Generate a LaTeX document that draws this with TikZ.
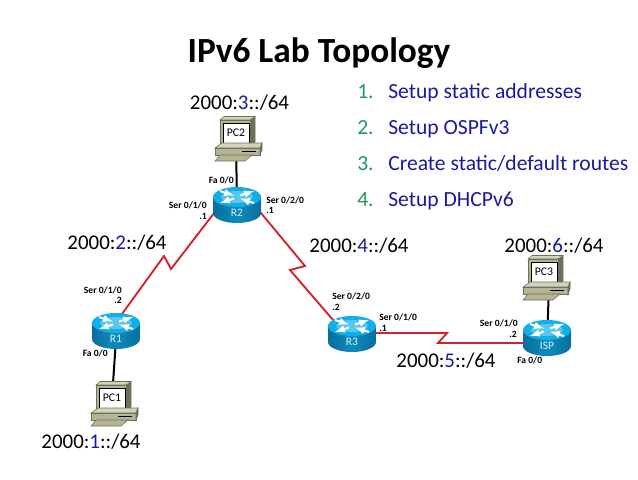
\documentclass[tikz,border=0pt]{standalone}
\usepackage{xcolor}
\usepackage{fontspec}
\setmainfont{Carlito}
\usetikzlibrary{backgrounds}
\definecolor{netblue}{HTML}{1A1A9E}
\definecolor{listgreen}{HTML}{1F9A5C}
\definecolor{linkred}{HTML}{D4212A}
\definecolor{pcmid}{HTML}{B4B594}
\definecolor{pcdark}{HTML}{6F7058}
\definecolor{pclight}{HTML}{D2D3BC}
\definecolor{routertop}{HTML}{12AEEA}
\definecolor{routerside}{HTML}{0B6E9C}
\definecolor{routerglow}{HTML}{0C8CBC}
\tikzset{
  nettext/.style={font=\fontsize{15.7pt}{17pt}\selectfont, anchor=base, inner sep=0pt},
  listnum/.style={font=\fontsize{16.2pt}{18pt}\selectfont, text=listgreen, anchor=base west, inner sep=0pt},
  listtext/.style={font=\fontsize{16.2pt}{18pt}\selectfont, text=netblue, anchor=base west, inner sep=0pt},
  porttext/.style={font=\fontsize{7.2pt}{8pt}\selectfont\bfseries, inner sep=0pt},
  serial/.style={draw=linkred, line width=1.4pt},
  lanlink/.style={draw=black, line width=1.5pt},
  routerbox/.style={rectangle, minimum width=36.6pt, minimum height=39pt, inner sep=0pt,
    text=white!85!cyan, font=\fontsize{8.6pt}{9pt}\selectfont},
  pcbox/.style={rectangle, minimum width=40pt, minimum height=44pt, inner sep=0pt,
    font=\fontsize{8.8pt}{10pt}\selectfont},
  arrowline/.style={white, line width=1.5pt, -latex}
}
\newcommand{\netnum}[1]{2000:\textcolor{netblue}{#1}::/64}
\newcommand{\routericon}[3]{
\begin{scope}[shift={#2}]
\shade[left color=routerside, right color=routerside, middle color=routerglow]
  (-24,-16) -- (-24,0) arc[x radius=24, y radius=10, start angle=180, end angle=0] -- (24,-16) -- cycle;
\fill[routertop] (0,-16) ellipse[x radius=24, y radius=10];
\fill[white!30!routertop] (0,-16) ellipse[x radius=16, y radius=6];
\draw[arrowline] (-17,-22) -- (-3,-17.5);
\draw[arrowline] (17,-10) -- (3,-14.5);
\draw[arrowline] (3,-17.5) -- (17,-22);
\draw[arrowline] (-3,-14.5) -- (-17,-10);
\end{scope}
\node[routerbox] (#1) at #2 {#3};
}
\newcommand{\pcicon}[3]{
\begin{scope}[shift={#2}, draw=pcdark, line width=0.4pt]
\filldraw[fill=pcdark] (14,-13) -- (19,-16.5) -- (19,9) -- (14,12) -- cycle;
\filldraw[fill=pclight] (-16,-13) -- (-12,-16.5) -- (19,-16.5) -- (14,-13) -- cycle;
\filldraw[fill=pcmid] (-16,-13) rectangle (14,12);
\filldraw[fill=white, draw=black, line width=0.6pt] (-13,-10) rectangle (13,10);
\filldraw[fill=pclight] (-14,10) -- (26,10) -- (24,15) -- (-21,15) -- cycle;
\filldraw[fill=pcmid] (-21,15) rectangle (24,22);
\filldraw[fill=pcdark] (24,15) -- (26,10) -- (26,17) -- (24,22) -- cycle;
\draw[black, line width=0.6pt] (6,18) -- (20,18);
\filldraw[fill=pcmid] (-16,22) -- (16,22) -- (9,28) -- (-21,28) -- cycle;
\end{scope}
\node[pcbox] (#1) at #2 {#3};
}
\begin{document}
\begin{tikzpicture}[x=0.75pt, y=-0.75pt]
\useasboundingbox (0,0) rectangle (638,479);

\node[anchor=base, inner sep=0pt, font=\fontsize{26.5pt}{28pt}\selectfont\bfseries] (title) at (319,62.5) {IPv6 Lab Topology};

\routericon{R2}{(237,213)}{R2}
\routericon{R1}{(116,339)}{R1}
\routericon{R3}{(352,342)}{R3}
\routericon{ISP}{(547,346)}{ISP}

\pcicon{PC2}{(236,133)}{PC2}
\pcicon{PC1}{(112,398)}{PC1}
\pcicon{PC3}{(544,272)}{PC3}

\coordinate (zig1a) at (164,256);
\coordinate (zig1b) at (171,269);
\coordinate (zig2a) at (305,266);
\coordinate (zig2b) at (290,270);
\coordinate (zig3a) at (447,333);
\coordinate (zig3b) at (438,343);

\begin{scope}[on background layer]
\draw[lanlink] (PC2.center) -- (R2.center);
\draw[lanlink] (R1.center) -- (PC1.center);
\draw[lanlink] ([xshift=4]PC3.center) -- (ISP.center);
\draw[serial] ([shift={(4,4)}]R1.north) -- (zig1a) -- (zig1b) -- ([shift={(8,-8)}]R2.west);
\draw[serial] ([shift={(-9,-10)}]R2.east) -- (zig2a) -- (zig2b) -- (R3.center);
\draw[serial] ([shift={(-5,-9)}]R3.east) -- (zig3a) -- (zig3b) -- ([shift={(5,-3)}]ISP.west);
\end{scope}

\node[nettext] (net3) at (239.5,109) {\netnum{3}};
\node[nettext] (net2) at (117,249) {\netnum{2}};
\node[nettext] (net4) at (359,252.5) {\netnum{4}};
\node[nettext] (net6) at (554,252.5) {\netnum{6}};
\node[nettext] (net5) at (446,367) {\netnum{5}};
\node[nettext] (net1) at (91,448) {\netnum{1}};

\node[listnum] (num1) at (357,98.5) {1.};
\node[listnum] (num2) at (357,134.5) {2.};
\node[listnum] (num3) at (357,170.5) {3.};
\node[listnum] (num4) at (357,206.5) {4.};
\node[listtext] (item1) at (388,98.5) {Setup static addresses};
\node[listtext] (item2) at (388,134.5) {Setup OSPFv3};
\node[listtext] (item3) at (388,170.5) {Create static/default routes};
\node[listtext] (item4) at (388,206.5) {Setup DHCPv6};

\node[porttext, anchor=base east] (r2fa) at (234,183) {Fa 0/0};
\node[porttext, anchor=base east] (r2s1) at (207,208) {Ser 0/1/0};
\node[porttext, anchor=base east] (r2s1ip) at (207,219) {.1};
\node[porttext, anchor=base west] (r2s2) at (266,203) {Ser 0/2/0};
\node[porttext, anchor=base west] (r2s2ip) at (266,213) {.1};

\node[porttext, anchor=base east] (r1s1) at (122,293) {Ser 0/1/0};
\node[porttext, anchor=base east] (r1s1ip) at (122,303) {.2};
\node[porttext, anchor=base east] (r1fa) at (108,356) {Fa 0/0};

\node[porttext, anchor=base west] (r3s2) at (332,299) {Ser 0/2/0};
\node[porttext, anchor=base west] (r3s2ip) at (332,310) {.2};
\node[porttext, anchor=base west] (r3s1) at (379,320) {Ser 0/1/0};
\node[porttext, anchor=base west] (r3s1ip) at (379,331) {.1};

\node[porttext, anchor=base east] (ISPs1) at (518,326) {Ser 0/1/0};
\node[porttext, anchor=base east] (ISPs1ip) at (517,337) {.2};
\node[porttext, anchor=base west] (ISPfa) at (517,363) {Fa 0/0};
\end{tikzpicture}
\end{document}
